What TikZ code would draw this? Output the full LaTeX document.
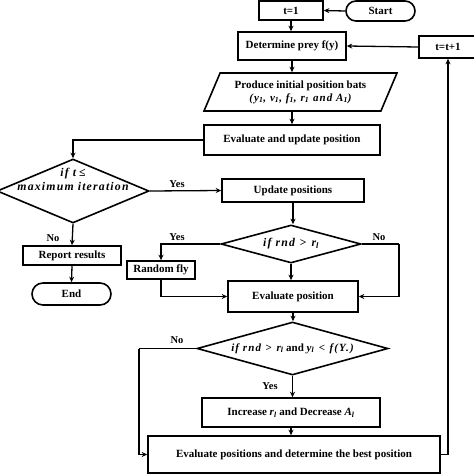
\documentclass[tikz,border=0pt]{standalone}
\usepackage{fontspec}
\setmainfont{Liberation Serif}
\newfontfamily\mifont[LetterSpace=10]{Liberation Serif}
\usetikzlibrary{shapes.geometric,arrows.meta}
\newcommand{\mi}[1]{{\mifont\bfseries\itshape #1}}
\newcommand{\sub}[1]{\textsubscript{\mi{#1}}}
\begin{document}
\begin{tikzpicture}[x=1pt,y=-1pt,
  font=\fontsize{11}{14}\selectfont\bfseries,
  box/.style={draw, rectangle, line width=1.6pt, inner sep=0pt, align=center},
  term/.style={box},
  dia/.style={draw, diamond, line width=1.6pt, inner sep=0pt, align=center},
  para/.style={draw, trapezium, trapezium left angle=55, trapezium right angle=125,
    trapezium stretches body, line width=1.6pt, inner sep=0pt, align=center},
  lbl/.style={font=\fontsize{10.5}{12}\selectfont\bfseries, inner sep=0pt},
  arr/.style={line width=1.3pt, -{Stealth[length=5.5pt,width=5pt]}},
  ln/.style={line width=1.3pt},
  mf/.style={font=\fontsize{11.8}{14}\selectfont\bfseries}]
\useasboundingbox (0,0) rectangle (474,474);
\clip (0,0) rectangle (474,474);
\fill[white] (0,0) rectangle (474,474);

\node[box, minimum width=64, minimum height=19] (t1) at (291,10.5) {t=1};
\node[term, rounded corners=10pt, minimum width=69, minimum height=20] (start) at (380.5,11) {Start};
\node[box, minimum width=108, minimum height=28] (det) at (292,46) {Determine prey f(y)};
\node[box, minimum width=58, minimum height=22] (tt) at (448,47) {t=t+1};
\node[para, minimum width=193, minimum height=38] (par) at (300.5,92)
  {Produce initial position bats\\[-1pt]\mi{(y\sub{1}, v\sub{1}, f\sub{1}, r\sub{1} and A\sub{1})}};
\node[box, minimum width=176, minimum height=30] (eup) at (292,140) {Evaluate and update position};
\node[dia, mf, aspect=2.375, minimum width=152, minimum height=64] (d1) at (73,191)
  {\raisebox{7pt}[0pt][0pt]{\begin{tabular}{@{}c@{}}\mi{if t} ≤\\\mi{maximum iteration}\end{tabular}}};
\node[box, minimum width=142, minimum height=23] (upd) at (293,190.5) {Update positions};
\node[dia, mf, aspect=3.68, minimum width=140, minimum height=38] (d2) at (291,244) {\mi{if rnd} \,>\, \mi{r}\sub{l}};
\node[box, minimum width=68, minimum height=18] (rf) at (161,270) {Random fly};
\node[box, minimum width=130, minimum height=31] (ev) at (293,296.5) {Evaluate position};
\node[dia, aspect=3.6, minimum width=191, minimum height=53] (d3) at (292.5,348.5)
  {\mi{if rnd} \,>\, \mi{r}\sub{l} and \mi{y}\sub{l} \,<\, \mi{f(Y.)}};
\node[box, minimum width=178, minimum height=29] (inc) at (291,412.5) {Increase \mi{r}\sub{l} and Decrease \mi{A}\sub{l}};
\node[box, minimum width=292, minimum height=37] (best) at (294,454.5) {Evaluate positions and determine the best position};
\node[box, minimum width=98, minimum height=19] (rep) at (72,255.5) {Report results};
\node[term, rounded corners=11pt, minimum width=79, minimum height=22] (end) at (71.5,294) {End};

\node[lbl] (ly1) at (177,184) {Yes};
\node[lbl] (ln1) at (53,238) {No};
\node[lbl] (ly2) at (177,237) {Yes};
\node[lbl] (ln2) at (379,237) {No};
\node[lbl] (ln3) at (177,340) {No};
\node[lbl] (ly3) at (270,386) {Yes};

\coordinate (c2) at (399,244);
\coordinate (c3) at (139,348.5);

\draw[arr] (start.west) -- (t1.east);
\draw[arr] (t1.south) -- (t1.south |- det.north);
\draw[arr] (tt.west) -- (det.east);
\draw[arr] (det.south) -- (det.south |- par.north);
\draw[arr] (det.south |- par.south) -- (det.south |- eup.north);
\draw[arr] (eup.west) -| (d1.north);
\draw[arr] (d1.east) -- (upd.west);
\draw[arr] (d1.south) -- (rep.north);
\draw[arr] (rep.south) -- (end.north);
\draw[arr] (upd.south) -- (upd.south |- d2.north);
\draw[arr] (d2.west) -| (rf.north);
\draw[arr] (rf.south) |- (ev.west);
\draw[ln] (d2.east) -- (c2);
\draw[arr] (c2) |- (ev.east);
\draw[arr] (d2.south) -- (d2.south |- ev.north);
\draw[arr] (ev.south) -- (ev.south |- d3.north);
\draw[ln] (d3.west) -- (c3);
\draw[arr] (c3) |- (best.west);
\draw[arr] (d3.south) -- (d3.south |- inc.north);
\draw[arr] (inc.south) -- (inc.south |- best.north);
\draw[arr] (best.east) -| (tt.south);
\end{tikzpicture}
\end{document}
